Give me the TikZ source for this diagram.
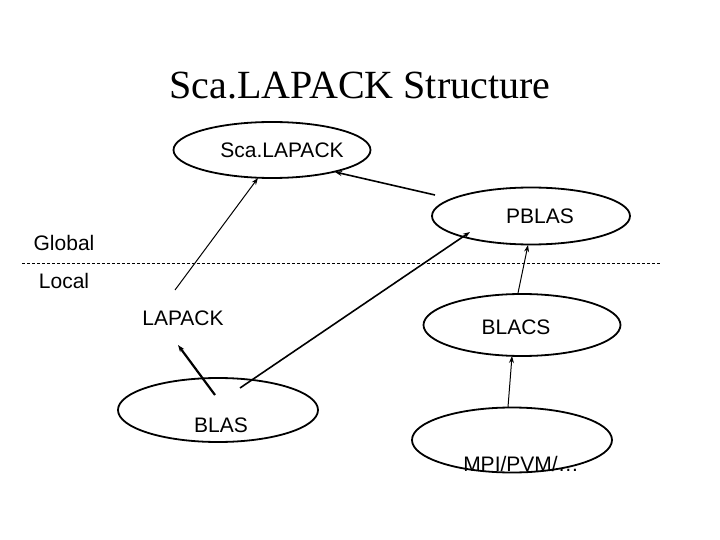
\documentclass[tikz,border=0pt]{standalone}
\usepackage{fontspec}
\setmainfont{Liberation Sans}
\newfontfamily\titlefont{Liberation Serif}
\usetikzlibrary{shapes.geometric,arrows.meta}
\begin{document}
\begin{tikzpicture}[x=1pt,y=-1pt,
  lab/.style={font=\fontsize{21}{24}\selectfont},
  arr/.style={-{Stealth[length=7pt,width=5pt]},line width=1pt}]
\useasboundingbox (0,0) rectangle (720,540);
\node[font=\titlefont\fontsize{40}{44}\selectfont] (title) at (360,86) {Sca.LAPACK Structure};
\node[draw,ellipse,line width=1.8pt,minimum width=197pt,minimum height=56pt] (scal) at (272,150) {};
\node[lab] (scalt) at (282,150) {Sca.LAPACK};
\node[draw,ellipse,line width=1.8pt,minimum width=198pt,minimum height=57pt] (pblas) at (531,216) {};
\node[lab] (pblast) at (540,216) {PBLAS};
\node[lab] (lapack) at (183,318) {LAPACK};
\node[draw,ellipse,line width=1.8pt,minimum width=197pt,minimum height=62pt] (blacs) at (522,325) {};
\node[lab] (blacst) at (516,327) {BLACS};
\node[draw,ellipse,line width=1.8pt,minimum width=200pt,minimum height=64pt] (blas) at (218,410) {};
\node[lab] (blast) at (221,425) {BLAS};
\node[draw,ellipse,line width=1.8pt,minimum width=200pt,minimum height=65pt] (mpi) at (512,440) {};
\node[lab] (mpit) at (521,464) {MPI/PVM/\ldots};
\node[lab] (global) at (64,243) {Global};
\node[lab] (local) at (64,281) {Local};
\coordinate (dl) at (22,263);
\coordinate (dr) at (660,263);
\draw[dash pattern=on 3pt off 2pt,line width=0.8pt] (dl) -- (dr);
\coordinate (a1) at (175,290); \coordinate (b1) at (258,178);
\coordinate (a2) at (435,195); \coordinate (b2) at (335,172);
\coordinate (a3) at (240,388); \coordinate (b3) at (470,232);
\coordinate (a4) at (518,293); \coordinate (b4) at (528,245);
\coordinate (a5) at (215,395); \coordinate (b5) at (178,345);
\coordinate (a6) at (508,407); \coordinate (b6) at (512,356);
\draw[arr] (a1) -- (b1);
\draw[arr,line width=1.6pt] (a2) -- (b2);
\draw[arr,line width=1.6pt] (a3) -- (b3);
\draw[arr] (a4) -- (b4);
\draw[arr,line width=2.2pt] (a5) -- (b5);
\draw[arr] (a6) -- (b6);
\end{tikzpicture}
\end{document}
